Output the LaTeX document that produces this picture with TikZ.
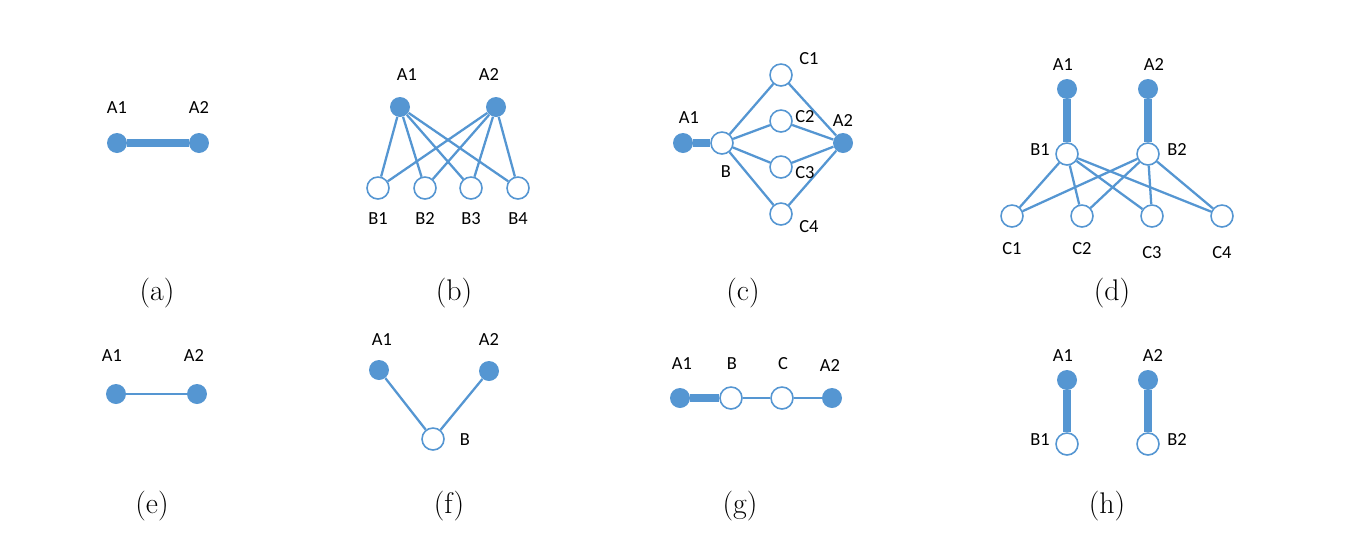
\documentclass[tikz,border=0pt]{standalone}
\usepackage{fontspec}
\newfontfamily\lab{Carlito}
\begin{document}
\begin{tikzpicture}[x=0.02cm,y=-0.02cm,
  fn/.style={circle,fill=myblue,inner sep=0pt,minimum size=0.4cm},
  on/.style={circle,draw=myblue,fill=white,line width=0.9pt,inner sep=0pt,minimum size=0.44cm},
  ln/.style={draw=myblue,line width=1.3pt},
  tk/.style={draw=myblue,line width=4.2pt},
  lb/.style={font=\lab\fontsize{10.5}{12}\selectfont,inner sep=0pt},
  captxt/.style={font=\fontsize{17}{20}\selectfont,inner sep=0pt}]
\definecolor{myblue}{RGB}{85,150,210}
\useasboundingbox (0,0) rectangle (1357,535);
% (a)
\node[fn] (aA1) at (117,143) {}; \node[fn] (aA2) at (199,143) {};
\draw[tk] (aA1) -- (aA2);
\node[lb] (laA1) at (117,108) {A1}; \node[lb] (laA2) at (199,108) {A2};
\node[captxt] (ca) at (157,293) {(a)};
% (b)
\node[fn] (bA1) at (400,107) {}; \node[fn] (bA2) at (496,107) {};
\foreach \i/\x in {1/378,2/425,3/471,4/518}{
  \node[on] (bB\i) at (\x,188) {};
  \node[lb] (lbB\i) at (\x,219) {B\i};
  \draw[ln] (bA1) -- (bB\i); \draw[ln] (bA2) -- (bB\i);}
\node[lb] (lbA1) at (407,75) {A1}; \node[lb] (lbA2) at (489,75) {A2};
\node[captxt] (cb) at (454,293) {(b)};
% (c)
\node[fn] (cA1) at (683,143) {}; \node[on] (cB) at (722,143) {};
\node[fn] (cA2) at (843,143) {};
\draw[tk] (cA1) -- (cB);
\foreach \i/\y in {1/75,2/121,3/167,4/214}{
  \node[on] (cC\i) at (781,\y) {};
  \draw[ln] (cB) -- (cC\i); \draw[ln] (cC\i) -- (cA2);}
\node[lb] (lcA1) at (689,118) {A1}; \node[lb] (lcB) at (726,172) {B};
\node[lb] (lcC1) at (809,59) {C1}; \node[lb] (lcC2) at (805,117) {C2};
\node[lb] (lcC3) at (805,173) {C3}; \node[lb] (lcC4) at (809,227) {C4};
\node[lb] (lcA2) at (843,121) {A2};
\node[captxt] (cc) at (743,293) {(c)};
% (d)
\node[fn] (dA1) at (1067,89) {}; \node[fn] (dA2) at (1148,89) {};
\node[on] (dB1) at (1067,154) {}; \node[on] (dB2) at (1148,154) {};
\draw[tk] (dA1) -- (dB1); \draw[tk] (dA2) -- (dB2);
\foreach \i/\x/\ly in {1/1012/249,2/1082/249,3/1152/253,4/1222/253}{
  \node[on] (dC\i) at (\x,216) {};
  \node[lb] (ldC\i) at (\x,\ly) {C\i};
  \draw[ln] (dB1) -- (dC\i); \draw[ln] (dB2) -- (dC\i);}
\node[lb] (ldA1) at (1063,65) {A1}; \node[lb] (ldA2) at (1154,65) {A2};
\node[lb] (ldB1) at (1040,150) {B1}; \node[lb] (ldB2) at (1177,150) {B2};
\node[captxt] (cd) at (1112,293) {(d)};
% (e)
\node[fn] (eA1) at (116,394) {}; \node[fn] (eA2) at (197,394) {};
\draw[ln] (eA1) -- (eA2);
\node[lb] (leA1) at (112,356) {A1}; \node[lb] (leA2) at (194,356) {A2};
\node[captxt] (ce) at (152,506) {(e)};
% (f)
\node[fn] (fA1) at (379,370) {}; \node[fn] (fA2) at (489,371) {};
\node[on] (fB) at (433,439) {};
\draw[ln] (fA1) -- (fB) -- (fA2);
\node[lb] (lfA1) at (382,340) {A1}; \node[lb] (lfA2) at (489,340) {A2};
\node[lb] (lfB) at (465,440) {B};
\node[captxt] (cf) at (449,506) {(f)};
% (g)
\node[fn] (gA1) at (680,398) {}; \node[on] (gB) at (731,398) {};
\node[on] (gC) at (782,398) {}; \node[fn] (gA2) at (832,398) {};
\draw[tk] (gA1) -- (gB); \draw[ln] (gB) -- (gC); \draw[ln] (gC) -- (gA2);
\node[lb] (lgA1) at (682,364) {A1}; \node[lb] (lgB) at (732,364) {B};
\node[lb] (lgC) at (783,364) {C}; \node[lb] (lgA2) at (830,366) {A2};
\node[captxt] (cg) at (740,506) {(g)};
% (h)
\node[fn] (hA1) at (1067,380) {}; \node[fn] (hA2) at (1148,380) {};
\node[on] (hB1) at (1067,444) {}; \node[on] (hB2) at (1148,444) {};
\draw[tk] (hA1) -- (hB1); \draw[tk] (hA2) -- (hB2);
\node[lb] (lhA1) at (1063,356) {A1}; \node[lb] (lhA2) at (1153,356) {A2};
\node[lb] (lhB1) at (1040,440) {B1}; \node[lb] (lhB2) at (1177,440) {B2};
\node[captxt] (ch) at (1107,506) {(h)};
\end{tikzpicture}
\end{document}
